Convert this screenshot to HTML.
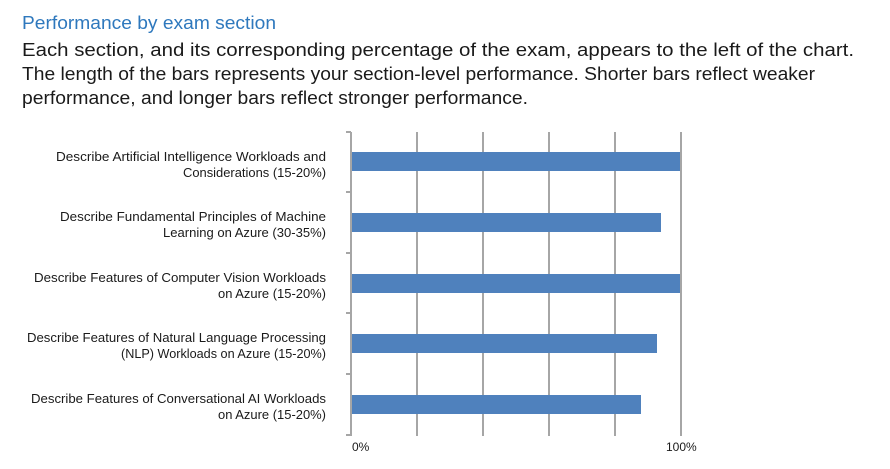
<!DOCTYPE html>
<html><head><meta charset="utf-8"><style>
html,body{margin:0;padding:0;background:#fff;width:890px;height:469px;overflow:hidden}
svg{display:block}
</style></head><body>
<svg width="890" height="469" xmlns="http://www.w3.org/2000/svg" font-family="Liberation Sans, sans-serif">
<text x="22" y="29" font-size="18" fill="#2e78bd" textLength="254" lengthAdjust="spacingAndGlyphs">Performance by exam section</text>
<g font-size="18" fill="#1a1a1a">
<text x="22" y="56" textLength="832" lengthAdjust="spacingAndGlyphs">Each section, and its corresponding percentage of the exam, appears to the left of the chart.</text>
<text x="22" y="80" textLength="793" lengthAdjust="spacingAndGlyphs">The length of the bars represents your section-level performance. Shorter bars reflect weaker</text>
<text x="22" y="104" textLength="506" lengthAdjust="spacingAndGlyphs">performance, and longer bars reflect stronger performance.</text>
</g>
<g stroke="#a6a6a6" stroke-width="2">
<line x1="417" y1="132" x2="417" y2="436"/>
<line x1="483" y1="132" x2="483" y2="436"/>
<line x1="549" y1="132" x2="549" y2="436"/>
<line x1="615" y1="132" x2="615" y2="436"/>
<line x1="681" y1="132" x2="681" y2="436"/>
<line x1="351" y1="132" x2="351" y2="436"/>
<line x1="346" y1="132" x2="351" y2="132"/>
<line x1="346" y1="192" x2="351" y2="192"/>
<line x1="346" y1="253" x2="351" y2="253"/>
<line x1="346" y1="313" x2="351" y2="313"/>
<line x1="346" y1="374" x2="351" y2="374"/>
<line x1="346" y1="435" x2="351" y2="435"/>
</g>
<g fill="#4f81bd">
<rect x="352" y="152" width="328" height="19"/>
<rect x="352" y="213" width="309" height="19"/>
<rect x="352" y="274" width="328" height="19"/>
<rect x="352" y="334" width="305" height="19"/>
<rect x="352" y="395" width="289" height="19"/>
</g>
<g font-size="13" fill="#1a1a1a" lengthAdjust="spacingAndGlyphs">
<text x="56" y="161" textLength="270" lengthAdjust="spacingAndGlyphs">Describe Artificial Intelligence Workloads and</text>
<text x="183" y="177" textLength="143" lengthAdjust="spacingAndGlyphs">Considerations (15-20%)</text>
<text x="60" y="221" textLength="266" lengthAdjust="spacingAndGlyphs">Describe Fundamental Principles of Machine</text>
<text x="163" y="237" textLength="163" lengthAdjust="spacingAndGlyphs">Learning on Azure (30-35%)</text>
<text x="34" y="282" textLength="292" lengthAdjust="spacingAndGlyphs">Describe Features of Computer Vision Workloads</text>
<text x="218" y="298" textLength="108" lengthAdjust="spacingAndGlyphs">on Azure (15-20%)</text>
<text x="27" y="342" textLength="299" lengthAdjust="spacingAndGlyphs">Describe Features of Natural Language Processing</text>
<text x="121" y="358" textLength="205" lengthAdjust="spacingAndGlyphs">(NLP) Workloads on Azure (15-20%)</text>
<text x="31" y="403" textLength="295" lengthAdjust="spacingAndGlyphs">Describe Features of Conversational AI Workloads</text>
<text x="218" y="419" textLength="108" lengthAdjust="spacingAndGlyphs">on Azure (15-20%)</text>
</g>
<g font-size="12" fill="#1a1a1a">
<text x="352" y="451">0%</text>
<text x="666" y="451">100%</text>
</g>
</svg>
</body></html>
